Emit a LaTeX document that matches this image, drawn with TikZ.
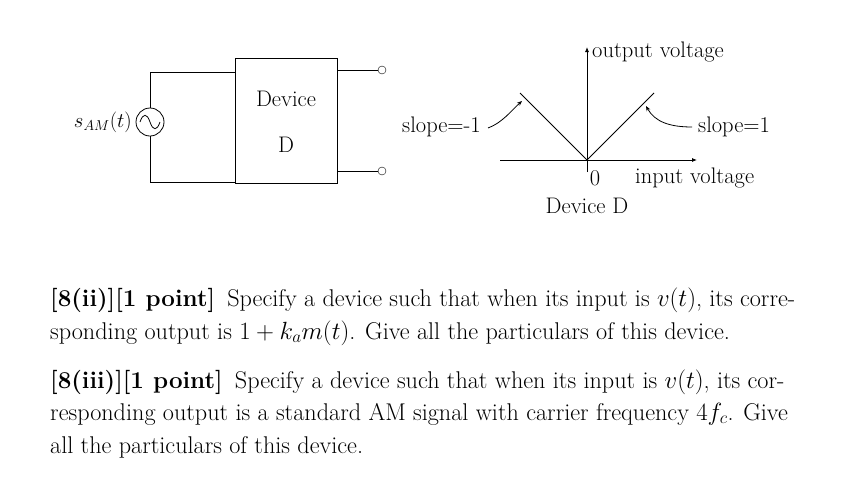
\documentclass[tikz,border=0pt]{standalone}
\usetikzlibrary{arrows.meta}
\begin{document}
\begin{tikzpicture}[x=1pt,y=-1pt,
  lbl/.style={font=\fontsize{22.5}{26}\selectfont, inner sep=1pt},
  txt/.style={font=\fontsize{24.2}{28}\selectfont, anchor=base west, inner sep=0pt},
  wire/.style={line width=0.8pt}]
\useasboundingbox (0,0) rectangle (868,485);
% circuit
\node[draw, circle, minimum size=28pt, inner sep=0pt, line width=0.8pt] (src) at (150,122) {};
\draw[line width=0.8pt] (140,122) .. controls (143,113) and (147,113) .. (150,122) .. controls (153,131) and (157,131) .. (160,122);
\node[lbl, anchor=east] (sl) at (133,122) {$s_{AM}(t)$};
\node[draw, wire, minimum width=102pt, minimum height=125pt, anchor=north west, inner sep=0pt] (box) at (235,58) {};
\node[lbl] (d1) at (286,99) {Device};
\node[lbl] (d2) at (286,145) {D};
\coordinate (bl1) at (235,72);
\coordinate (bl2) at (235,182);
\draw[wire] (src.north) |- (bl1);
\draw[wire] (src.south) |- (bl2);
\node[draw, circle, minimum size=8pt, inner sep=0pt] (o1) at (382,70) {};
\node[draw, circle, minimum size=8pt, inner sep=0pt] (o2) at (382,171) {};
\draw[wire] (box.east |- o1) -- (o1.west);
\draw[wire] (box.east |- o2) -- (o2.west);
% graph
\coordinate (O) at (587,160);
\coordinate (xs) at (500,160);
\coordinate (xe) at (697,160);
\coordinate (ys) at (587,172);
\coordinate (ye) at (587,47);
\draw[wire, -{Latex[length=5pt,width=4pt]}] (xs) -- (xe);
\draw[wire, -{Latex[length=5pt,width=4pt]}] (ys) -- (ye);
\coordinate (lt) at (520,93);
\coordinate (rt) at (654,93);
\draw[wire] (lt) -- (O) -- (rt);
\node[lbl, anchor=west] (ov) at (591,52) {output voltage};
\node[lbl, anchor=east] (sm) at (482,127) {slope=-1};
\node[lbl, anchor=west] (sp) at (697,127) {slope=1};
\node[lbl] (zero) at (595,178) {0};
\node[lbl, anchor=west] (iv) at (634,178) {input voltage};
\node[lbl] (dd) at (587,206) {Device D};
\coordinate (la) at (522,101);
\coordinate (ra) at (646,106);
\coordinate (lst) at (488,128);
\coordinate (rst) at (692,127);
\draw[wire, -{Stealth[length=5pt,width=4pt]}] (lst) .. controls (502,123) and (512,110) .. (la);
\draw[wire, -{Stealth[length=5pt,width=4pt]}] (rst) .. controls (670,127) and (655,122) .. (ra);
% text
\node[txt] (t1) at (50,306) {\textbf{[8(ii)][1 point]}\enspace Specify a device such that when its input is $v(t)$, its corre-};
\node[txt] (t2) at (50,339) {sponding output is $1+k_am(t)$. Give all the particulars of this device.};
\node[txt] (t3) at (50,388) {\textbf{[8(iii)][1 point]}\enspace Specify a device such that when its input is $v(t)$, its cor-};
\node[txt] (t4) at (50,420) {responding output is a standard AM signal with carrier frequency $4f_c$. Give};
\node[txt] (t5) at (50,453) {all the particulars of this device.};
\end{tikzpicture}
\end{document}
